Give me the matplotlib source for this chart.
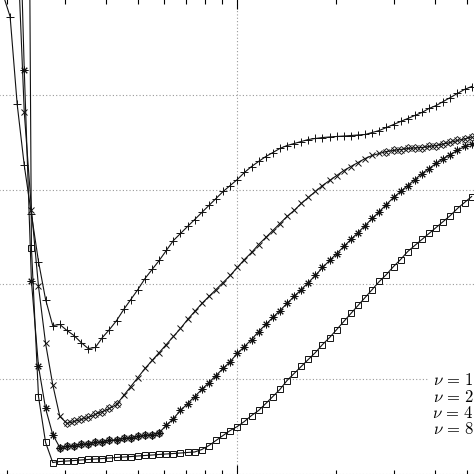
import numpy as np
import matplotlib
matplotlib.use("Agg")
import matplotlib.pyplot as plt
from matplotlib.ticker import LogLocator, NullFormatter

plt.rcParams['mathtext.fontset'] = 'cm'

# sample positions (log spaced)
x = [19.44, 20.43, 21.47, 22.56, 23.72, 24.92, 26.19, 27.53, 28.93, 30.41,
     31.95, 33.58, 35.29, 37.09, 38.98, 40.96, 43.05, 45.25, 47.55, 49.97,
     52.52, 55.19, 58.01, 60.96, 64.07, 67.33, 70.76, 74.37, 78.16, 82.14,
     86.32, 90.72, 95.35, 100.2, 105.3, 110.7, 116.3, 122.3, 128.5, 135.0,
     141.9, 149.1, 156.7, 164.7, 173.1, 181.9, 191.2, 200.9, 211.2, 221.9,
     233.2, 245.1, 257.6, 270.7, 284.5, 299.0, 314.2, 330.2, 347.1, 364.8,
     383.4, 402.9, 423.4, 445.0, 467.7, 491.5, 516.6]

nu1 = [5.053, 4.821, 3.895, 3.253, 2.737, 2.242, 1.842, 1.568, 1.579, 1.516,
       1.463, 1.389, 1.326, 1.337, 1.442, 1.526, 1.621, 1.737, 1.842, 1.947,
       2.063, 2.158, 2.253, 2.358, 2.463, 2.537, 2.611, 2.684, 2.758, 2.832,
       2.905, 2.979, 3.042, 3.105, 3.179, 3.242, 3.295, 3.347, 3.389, 3.432,
       3.463, 3.484, 3.505, 3.526, 3.537, 3.547, 3.553, 3.558, 3.563, 3.568,
       3.574, 3.579, 3.600, 3.621, 3.653, 3.684, 3.716, 3.747, 3.779, 3.811,
       3.853, 3.884, 3.926, 3.968, 4.011, 4.053, 4.084]

nu2 = [11.316, 8.158, 5.632, 3.811, 2.789, 1.979, 1.379, 0.947, 0.611, 0.537,
       0.558, 0.579, 0.600, 0.632, 0.663, 0.695, 0.737, 0.832, 0.926, 1.021,
       1.116, 1.200, 1.284, 1.368, 1.453, 1.537, 1.632, 1.716, 1.800, 1.874,
       1.947, 2.021, 2.095, 2.179, 2.263, 2.337, 2.421, 2.495, 2.568, 2.642,
       2.716, 2.779, 2.853, 2.916, 2.979, 3.042, 3.095, 3.147, 3.200, 3.242,
       3.284, 3.326, 3.358, 3.379, 3.400, 3.411, 3.421, 3.432, 3.437, 3.442,
       3.453, 3.463, 3.479, 3.495, 3.516, 3.532, 3.553]

nu4 = [20.789, 13.421, 6.863, 4.253, 2.032, 1.137, 0.695, 0.421, 0.284, 0.295,
       0.305, 0.316, 0.326, 0.337, 0.347, 0.358, 0.368, 0.379, 0.389, 0.400,
       0.411, 0.421, 0.442, 0.516, 0.589, 0.674, 0.747, 0.821, 0.895, 0.968,
       1.042, 1.116, 1.189, 1.274, 1.347, 1.421, 1.505, 1.579, 1.653, 1.726,
       1.800, 1.874, 1.947, 2.021, 2.095, 2.179, 2.253, 2.326, 2.400, 2.474,
       2.547, 2.621, 2.695, 2.768, 2.842, 2.916, 2.979, 3.042, 3.105, 3.168,
       3.221, 3.274, 3.326, 3.368, 3.411, 3.453, 3.484]

nu8 = [57.63, 36.58, 26.05, 14.47, 2.379, 0.821, 0.337, 0.126, 0.137, 0.142,
       0.147, 0.153, 0.158, 0.163, 0.168, 0.174, 0.179, 0.184, 0.189, 0.195,
       0.200, 0.205, 0.211, 0.216, 0.221, 0.226, 0.232, 0.237, 0.263, 0.305,
       0.358, 0.411, 0.463, 0.505, 0.558, 0.621, 0.674, 0.747, 0.821, 0.895,
       0.989, 1.063, 1.137, 1.211, 1.284, 1.368, 1.442, 1.526, 1.611, 1.695,
       1.779, 1.863, 1.947, 2.032, 2.105, 2.189, 2.263, 2.347, 2.411, 2.474,
       2.537, 2.600, 2.663, 2.726, 2.800, 2.863, 2.926]

labels = [r'$\nu\,=\,1$', r'$\nu\,=\,2$', r'$\nu\,=\,4$', r'$\nu\,=\,8$']

W = 474
fig = plt.figure(figsize=(4.74, 4.74), dpi=100)
# axes frame sits just outside the visible area
ax = fig.add_axes([-2 / W, -2 / W, 562 / W, 478 / W])

lc = '#111111'
kw = dict(color=lc, lw=0.8, mec=lc, mew=0.7, fillstyle='none')
ax.plot(x, nu1, marker='+', ms=5.5, label=labels[0], **kw)
ax.plot(x, nu2, marker='x', ms=4.5, label=labels[1], **kw)
ax.plot(x, nu4, marker=(8, 2, 0), ms=5.5, label=labels[2], **kw)
ax.plot(x, nu8, marker='s', ms=4.5, label=labels[3], **kw)

# diamond points overlapping the flat parts
ax.plot(x, nu2, ls='none', marker='D', ms=3.8, markevery=list(range(9, 17)) + list(range(54, 67)),
        mec=lc, mew=0.6, fillstyle='none')
ax.plot(x, nu4, ls='none', marker='D', ms=3.8, markevery=list(range(8, 23)),
        mec=lc, mew=0.6, fillstyle='none')

ax.set_xscale('log')
ax.set_xlim(18.77, 958.9)
ax.set_ylim(-0.0158, 5.0158)
ax.set_yticks([0, 1, 2, 3, 4])
ax.xaxis.set_major_locator(LogLocator(base=10))
ax.xaxis.set_minor_locator(LogLocator(base=10, subs=np.arange(2, 10)))
ax.xaxis.set_minor_formatter(NullFormatter())
ax.tick_params(axis='x', which='both', direction='in', top=True, bottom=True,
               labelbottom=False, width=0.8, color='black')
ax.tick_params(axis='x', which='major', length=8)
ax.tick_params(axis='x', which='minor', length=4.5)
ax.tick_params(axis='y', which='both', length=0, labelleft=False)
ax.grid(True, which='major', color='#999999', lw=0.8, ls=(0, (1, 2)))

leg = ax.legend(loc='upper left', bbox_to_anchor=(429 / W, 1 - 368 / W),
                bbox_transform=fig.transFigure, markerfirst=False,
                frameon=True, fancybox=False, framealpha=1, edgecolor='white',
                fontsize=12, borderpad=0.2, labelspacing=-0.1, handleheight=0.5,
                handlelength=2.5, handletextpad=1.5, borderaxespad=0)

fig.savefig('out.png', dpi=100)
